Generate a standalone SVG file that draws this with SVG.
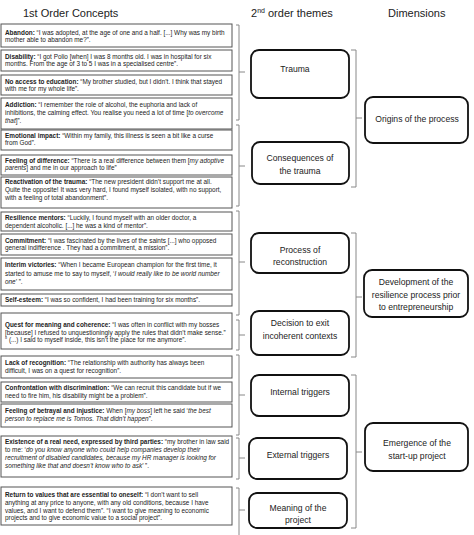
<svg xmlns="http://www.w3.org/2000/svg" width="474" height="535" viewBox="0 0 474 535">
<style>
.hdr{font-family:"Liberation Sans",Arial,sans-serif;font-size:11px;fill:#222}
.c{font-family:"Liberation Sans",Arial,sans-serif;font-size:6.4px;fill:#222}
.cbox{fill:#fff;stroke:#555;stroke-width:1}
.b{font-weight:bold}
.i{font-style:italic}
.tbox{fill:#fff;stroke:#111;stroke-width:1.8}
.t{font-family:"Liberation Sans",Arial,sans-serif;font-size:8.6px;fill:#222;text-anchor:middle}
.br{fill:none;stroke:#888;stroke-width:1}
</style>
<rect width="474" height="535" fill="#fff"/>
<g id="headers">
<text class="hdr" x="23" y="17">1st Order Concepts</text>
<text class="hdr" x="251" y="17">2<tspan font-size="7" dy="-4">nd</tspan><tspan dy="4"> order themes</tspan></text>
<text class="hdr" x="388" y="17">Dimensions</text>
</g>
<g id="connectors">
<path class="br" d="M236,25H239V120H236M239,72H245"/>
<path class="br" d="M236,125H239V206H236M239,166H245"/>
<path class="br" d="M236,211H239V315H236M239,262H245"/>
<path class="br" d="M236,320H239V350H236M239,335H245"/>
<path class="br" d="M236,355H239V435H236M239,395H245"/>
<path class="br" d="M236,438H239V479H236M239,458H245"/>
<path class="br" d="M236,488H239V536M239,510H245"/>
<path class="br" d="M351,50H356V187H351M356,118H362"/>
<path class="br" d="M351,233H356V357H351M356,297H362"/>
<path class="br" d="M351,375H356V528H351M356,452H362"/>
</g>
<g id="c1"><rect class="cbox" x="1" y="24" width="231" height="23"/>
<text class="c" x="5" y="35.3"><tspan class="b">Abandon:</tspan> “I was adopted, at the age of one and a half. [...] Why was my birth</text>
<text class="c" x="5" y="42.3">mother able to abandon me?”.</text></g>
<g id="c2"><rect class="cbox" x="1" y="50" width="231" height="21"/>
<text class="c" x="5" y="59.3"><tspan class="b">Disability:</tspan> “I got Polio [when] I was 8 months old. I was in hospital for six</text>
<text class="c" x="5" y="66.3">months. From the age of  3 to 5 I was in a specialised centre”.</text></g>
<g id="c3"><rect class="cbox" x="1" y="75" width="231" height="20"/>
<text class="c" x="5" y="84.3"><tspan class="b">No access to education:</tspan> “My brother studied, but I didn’t. I think that stayed</text>
<text class="c" x="5" y="91.3">with me for my whole life”.</text></g>
<g id="c4"><rect class="cbox" x="1" y="98" width="231" height="31"/>
<text class="c" x="5" y="107.3"><tspan class="b">Addiction:</tspan> “I remember the role of alcohol, the euphoria and lack of</text>
<text class="c" x="5" y="115.3">inhibitions, the calming effect. You realise you need a lot of time [<tspan class="i">to overcome</tspan></text>
<text class="c" x="5" y="123.3"><tspan class="i">that</tspan>]”.</text></g>
<g id="c5"><rect class="cbox" x="1" y="130" width="231" height="20"/>
<text class="c" x="5" y="138.3"><tspan class="b">Emotional impact:</tspan> “Within my family, this illness is seen a bit like a curse</text>
<text class="c" x="5" y="145.3">from God”.</text></g>
<g id="c6"><rect class="cbox" x="1" y="155" width="231" height="20"/>
<text class="c" x="5" y="163.3"><tspan class="b">Feeling of difference:</tspan>  “There is a real difference between them [<tspan class="i">my adoptive</tspan></text>
<text class="c" x="5" y="170.3"><tspan class="i">parents</tspan>] and me in our approach to life”</text></g>
<g id="c7"><rect class="cbox" x="1" y="177" width="231" height="31"/>
<text class="c" x="5" y="184.3"><tspan class="b">Reactivation of the trauma:</tspan> “The new president didn’t support me at all.</text>
<text class="c" x="5" y="192.3">Quite the opposite! It was very hard, I found myself isolated, with no support,</text>
<text class="c" x="5" y="200.3">with a feeling of total abandonment”.</text></g>
<g id="c8"><rect class="cbox" x="1" y="212" width="231" height="19"/>
<text class="c" x="5" y="220.3"><tspan class="b">Resilience mentors:</tspan> “Luckily, I found myself with an older doctor, a</text>
<text class="c" x="5" y="228.3">dependent alcoholic. [...] he was a kind of mentor”.</text></g>
<g id="c9"><rect class="cbox" x="1" y="234" width="231" height="21"/>
<text class="c" x="5" y="243.3"><tspan class="b">Commitment:</tspan> “I was fascinated by the lives of the saints [...] who opposed</text>
<text class="c" x="5" y="250.3">general indifference . They had a commitment, a mission”.</text></g>
<g id="c10"><rect class="cbox" x="1" y="258" width="231" height="32"/>
<text class="c" x="5" y="267.3"><tspan class="b">Interim victories:</tspan> “When I became European champion for the first time, it</text>
<text class="c" x="5" y="276.3">started to amuse me to say to myself, ‘<tspan class="i">I would really like to be world number</tspan></text>
<text class="c" x="5" y="284.3"><tspan class="i">one</tspan>’ ”.</text></g>
<g id="c11"><rect class="cbox" x="1" y="294" width="231" height="12"/>
<text class="c" x="5" y="302.3"><tspan class="b">Self-esteem:</tspan> “I was so confident, I had been training for six months”.</text></g>
<g id="c12"><rect class="cbox" x="1" y="313" width="231" height="36"/>
<text class="c" x="5" y="327.3"><tspan class="b">Quest for meaning and coherence:</tspan> “I was often in conflict  with my bosses</text>
<text class="c" x="5" y="335.3">[because] I refused to unquestioningly  apply the rules that didn’t make sense.”</text>
<text class="c" x="5" y="342.3">“ (...) I said to myself inside,  this isn’t the place for me anymore”.</text></g>
<g id="c13"><rect class="cbox" x="1" y="356" width="231" height="22"/>
<text class="c" x="5" y="365.3"><tspan class="b">Lack of recognition:</tspan> “The relationship with authority has always been</text>
<text class="c" x="5" y="373.3">difficult,  I was on a quest for recognition”.</text></g>
<g id="c14"><rect class="cbox" x="1" y="382" width="231" height="20"/>
<text class="c" x="5" y="390.3"><tspan class="b">Confrontation with discrimination:</tspan> “We can recruit this candidate but if we</text>
<text class="c" x="5" y="398.3">need to fire him, his disability might be a problem”.</text></g>
<g id="c15"><rect class="cbox" x="1" y="404" width="231" height="23"/>
<text class="c" x="5" y="413.3"><tspan class="b">Feeling of betrayal and injustice:</tspan> When [<tspan class="i">my boss</tspan>] left he said ‘<tspan class="i">the best</tspan></text>
<text class="c" x="5" y="421.3"><tspan class="i">person to replace me is Tomos. That didn’t happen</tspan>”.</text></g>
<g id="c16"><rect class="cbox" x="1" y="436" width="231" height="41"/>
<text class="c" x="5" y="444.3"><tspan class="b">Existence of a real need, expressed by third parties:</tspan> “my brother in law said</text>
<text class="c" x="5" y="452.3">to me: ‘<tspan class="i">do you know anyone who could help companies develop their</tspan></text>
<text class="c" x="5" y="460.3" font-style="italic">recruitment of disabled candidates, because my HR manager is looking for</text>
<text class="c" x="5" y="468.3"><tspan class="i">something like that and doesn’t know who to ask</tspan>’ ”.</text></g>
<g id="c17"><rect class="cbox" x="1" y="487" width="231" height="38"/>
<text class="c" x="5" y="497.3"><tspan class="b">Return to values that are essential to oneself:</tspan> “I don’t want to sell</text>
<text class="c" x="5" y="505.3">anything at any price to anyone, with any old conditions, because I have</text>
<text class="c" x="5" y="513.3">values, and I want to defend them”.  “I want to give meaning to economic</text>
<text class="c" x="5" y="520.3">projects and to give economic value to a social project”.</text></g>
<g id="t1"><rect class="tbox" x="251" y="50" width="98" height="48" rx="8"/>
<text class="t" x="295" y="72">Trauma</text></g>
<g id="t2"><rect class="tbox" x="252" y="142" width="97" height="42" rx="8"/>
<text class="t" x="300" y="161">Consequences  of</text><text class="t" x="300" y="174">the trauma</text></g>
<g id="t3"><rect class="tbox" x="251" y="233" width="98" height="40" rx="8"/>
<text class="t" x="300" y="252.5">Process of</text><text class="t" x="300" y="265">reconstruction</text></g>
<g id="t4"><rect class="tbox" x="251" y="311" width="98" height="44" rx="8"/>
<text class="t" x="300" y="326">Decision to exit</text><text class="t" x="300" y="338.5">incoherent contexts</text></g>
<g id="t5"><rect class="tbox" x="251" y="375" width="98" height="41" rx="8"/>
<text class="t" x="300" y="395">Internal triggers</text></g>
<g id="t6"><rect class="tbox" x="249" y="438" width="98" height="41" rx="8"/>
<text class="t" x="298" y="458">External triggers</text></g>
<g id="t7"><rect class="tbox" x="249" y="493" width="98" height="35" rx="8"/>
<text class="t" x="298" y="510.5">Meaning of the</text><text class="t" x="298" y="523">project</text></g>
<g id="d1"><rect class="tbox" x="365" y="97" width="103" height="46" rx="8"/>
<text class="t" x="417" y="122">Origins of the process</text></g>
<g id="d2"><rect class="tbox" x="364" y="270" width="104" height="47" rx="8"/>
<text class="t" x="416" y="285">Development  of the</text><text class="t" x="416" y="298">resilience process prior</text><text class="t" x="416" y="310">to entrepreneurship</text></g>
<g id="d3"><rect class="tbox" x="365" y="423" width="103" height="48" rx="8"/>
<text class="t" x="417" y="446">Emergence  of the</text><text class="t" x="417" y="458.5">start-up project</text></g>
</svg>
